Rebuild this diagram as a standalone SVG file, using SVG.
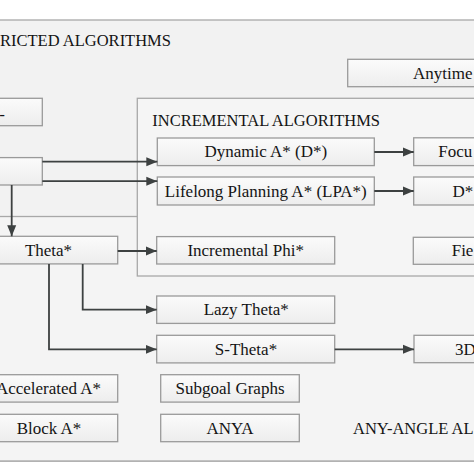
<svg xmlns="http://www.w3.org/2000/svg" width="474" height="474" viewBox="0 0 474 474">
<defs>
<linearGradient id="bg" x1="0" y1="0" x2="0" y2="1">
<stop offset="0" stop-color="#fbfbfb"/>
<stop offset="1" stop-color="#ededed"/>
</linearGradient>
<marker id="ah" markerUnits="userSpaceOnUse" markerWidth="12" markerHeight="10" refX="11" refY="5" orient="auto">
<path d="M0,0.5 L11,5 L0,9.5 Z" fill="#3d4141"/>
</marker>
<style>
.region{stroke:#a8a8a8;stroke-width:1.3}
.box rect{fill:url(#bg);stroke:#9a9a9a;stroke-width:1.3}
.box text,.head{font-family:"Liberation Serif",serif;fill:#141414}
.box text{font-size:17px}
.c{text-anchor:middle}
.head{font-size:16.5px}
.conn path{fill:none;stroke:#3d4141;stroke-width:1.8;marker-end:url(#ah)}
</style>
</defs>
<rect x="0" y="0" width="474" height="474" fill="#ffffff"/>
<g id="region-unrestricted">
<rect class="region" x="-10" y="20" width="494" height="441" fill="#f2f2f2"/>
<text class="head" x="0" y="45.7">RICTED ALGORITHMS</text>
</g>
<g id="region-any-angle">
<rect class="region" x="-10" y="216.5" width="494" height="244.5" fill="#f4f4f4"/>
<text class="head" x="353" y="433.5">ANY-ANGLE AL</text>
</g>
<g id="region-incremental">
<rect class="region" x="137.3" y="98.3" width="350" height="177.7" fill="#f5f5f5"/>
<text class="head" x="152.3" y="125.7">INCREMENTAL ALGORITHMS</text>
</g>
<g id="node-anytime" class="box"><rect x="347.7" y="59.3" width="140" height="27.4"/><text x="413" y="78.7">Anytime</text></g>
<g id="node-topleft" class="box"><rect x="-20" y="98.3" width="62.3" height="27.4"/><text x="5" y="120" style="text-anchor:end">-</text></g>
<g id="node-leftmid" class="box"><rect x="-20" y="157.6" width="62.3" height="27.4"/></g>
<g id="node-dstar-dynamic" class="box"><rect x="157.3" y="138" width="217" height="27.6"/><text class="c" x="265.8" y="157.3">Dynamic A* (D*)</text></g>
<g id="node-lpa" class="box"><rect x="157.3" y="177" width="217" height="28"/><text class="c" x="265.8" y="196.5">Lifelong Planning A* (LPA*)</text></g>
<g id="node-focused" class="box"><rect x="413.7" y="137.8" width="80" height="27.8"/><text x="438.3" y="157.3">Focu</text></g>
<g id="node-dstar-lite" class="box"><rect x="413.7" y="177" width="80" height="28"/><text x="452.5" y="196.5">D*</text></g>
<g id="node-field" class="box"><rect x="413.3" y="237.3" width="80" height="27"/><text x="451.7" y="256.3">Fie</text></g>
<g id="node-theta" class="box"><rect x="-20.7" y="236.3" width="138.4" height="27.6"/><text class="c" x="48.5" y="255.7">Theta*</text></g>
<g id="node-incphi" class="box"><rect x="156.7" y="236.6" width="178" height="27.4"/><text class="c" x="245.7" y="255.8">Incremental Phi*</text></g>
<g id="node-lazytheta" class="box"><rect x="156.7" y="296" width="178" height="27.4"/><text class="c" x="246.2" y="315.2">Lazy Theta*</text></g>
<g id="node-stheta" class="box"><rect x="156.7" y="335.3" width="178" height="27.6"/><text class="c" x="246" y="354.6">S-Theta*</text></g>
<g id="node-3d" class="box"><rect x="414" y="335.3" width="80" height="27.4"/><text x="455" y="354.6">3D</text></g>
<g id="node-accelerated" class="box"><rect x="-20.7" y="374.7" width="138.4" height="27.4"/><text class="c" x="48.5" y="394">Accelerated A*</text></g>
<g id="node-blocka" class="box"><rect x="-20.7" y="414.3" width="138.4" height="27.4"/><text class="c" x="49" y="433.6">Block A*</text></g>
<g id="node-subgoal" class="box"><rect x="160.7" y="374.7" width="138.6" height="27.4"/><text class="c" x="230" y="394">Subgoal Graphs</text></g>
<g id="node-anya" class="box"><rect x="160.7" y="414.3" width="138.6" height="27.4"/><text class="c" x="230" y="433.6">ANYA</text></g>
<g id="connectors" class="conn">
<path d="M42.3,161.7 H157.3"/>
<path d="M42.3,181.2 H157.3"/>
<path d="M374.3,152 H413.7"/>
<path d="M374.3,191 H413.7"/>
<path d="M11.7,185 V236.3"/>
<path d="M117.7,251 H156.7"/>
<path d="M82.7,264 V309.7 H156.7"/>
<path d="M49,264 V349.3 H156.7"/>
<path d="M334.7,349.3 H414"/>
</g>
</svg>
